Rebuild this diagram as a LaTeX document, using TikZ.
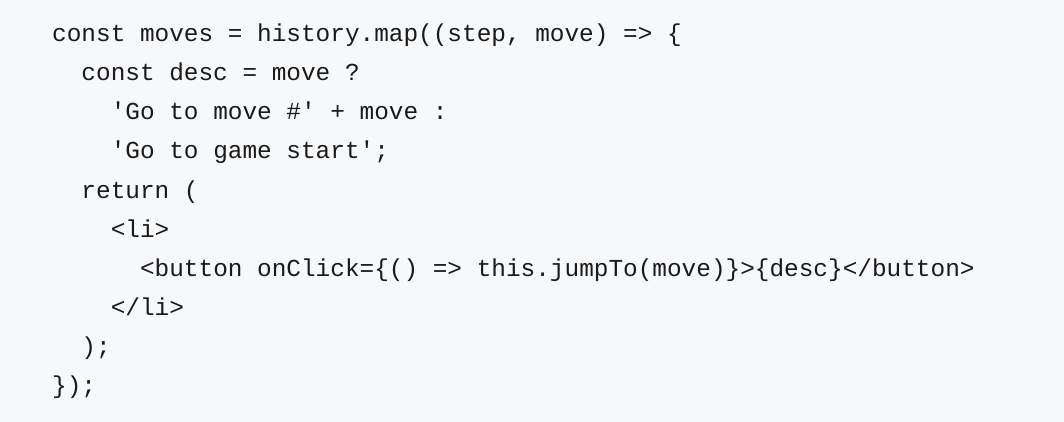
\documentclass[tikz,border=0pt]{standalone}
\usepackage{fontspec}
\setmonofont{Liberation Mono}
\definecolor{codebg}{HTML}{F7F8FA}
\definecolor{codefg}{HTML}{1A1A1A}
\begin{document}
\begin{tikzpicture}[x=1pt,y=-1pt,
    codeline/.style={anchor=base west,inner sep=0pt,text=codefg,font=\ttfamily\fontsize{24.4}{29}\selectfont}]
    \fill [codebg] (0,0) rectangle (1064,422);
    \useasboundingbox (0,0) rectangle (1064,422);
    % code lines, one node per line
    \node [codeline] (l1) at (52,42) {const moves = history.map((step, move) => \{};
    \node [codeline] (l2) at (52,81) {\ \ const desc = move ?};
    \node [codeline] (l3) at (52,120) {\ \ \ \ 'Go to move \#' + move :};
    \node [codeline] (l4) at (52,159) {\ \ \ \ 'Go to game start';};
    \node [codeline] (l5) at (52,198) {\ \ return (};
    \node [codeline] (l6) at (52,237) {\ \ \ \ <li>};
    \node [codeline] (l7) at (52,276) {\ \ \ \ \ \ <button onClick=\{() => this.jumpTo(move)\}>\{desc\}</button>};
    \node [codeline] (l8) at (52,315) {\ \ \ \ </li>};
    \node [codeline] (l9) at (52,354) {\ \ );};
    \node [codeline] (l10) at (52,393) {\});};
\end{tikzpicture}
\end{document}
